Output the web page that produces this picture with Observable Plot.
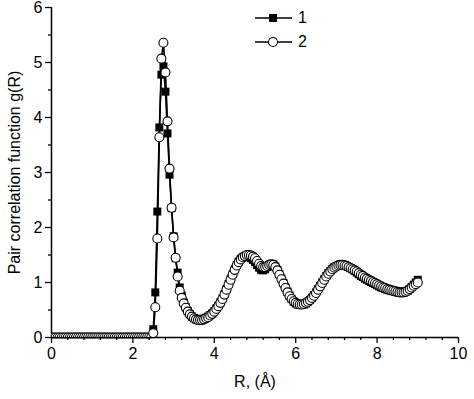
<!DOCTYPE html>
<html><head><meta charset="utf-8">
<script src="https://cdn.jsdelivr.net/npm/d3@7"></script>
<script src="https://cdn.jsdelivr.net/npm/@observablehq/plot@0.6"></script>
<style>
body{margin:0;background:#fff;}
#wrap{position:relative;width:474px;height:399px;font-family:"Liberation Sans",Arial,sans-serif;}
#legend{position:absolute;left:254px;top:6px;font-size:16px;color:#000;}
.row{display:flex;align-items:center;height:24px;}
.row span{margin-left:5px;}
</style></head><body>
<div id="wrap"><div id="chart"></div><div id="legend"></div></div>
<script>
// R grid (Å)
const R = [
0,0.05,0.1,0.15,0.2,0.25,0.3,0.35,0.4,0.45,
0.5,0.55,0.6,0.65,0.7,0.75,0.8,0.85,0.9,0.95,
1,1.05,1.1,1.15,1.2,1.25,1.3,1.35,1.4,1.45,
1.5,1.55,1.6,1.65,1.7,1.75,1.8,1.85,1.9,1.95,
2,2.05,2.1,2.15,2.2,2.25,2.3,2.35,2.4,2.45,
2.5,2.55,2.6,2.65,2.7,2.75,2.8,2.85,2.9,2.95,
3,3.05,3.1,3.15,3.2,3.25,3.3,3.35,3.4,3.45,
3.5,3.55,3.6,3.65,3.7,3.75,3.8,3.85,3.9,3.95,
4,4.05,4.1,4.15,4.2,4.25,4.3,4.35,4.4,4.45,
4.5,4.55,4.6,4.65,4.7,4.75,4.8,4.85,4.9,4.95,
5,5.05,5.1,5.15,5.2,5.25,5.3,5.35,5.4,5.45,
5.5,5.55,5.6,5.65,5.7,5.75,5.8,5.85,5.9,5.95,
6,6.05,6.1,6.15,6.2,6.25,6.3,6.35,6.4,6.45,
6.5,6.55,6.6,6.65,6.7,6.75,6.8,6.85,6.9,6.95,
7,7.05,7.1,7.15,7.2,7.25,7.3,7.35,7.4,7.45,
7.5,7.55,7.6,7.65,7.7,7.75,7.8,7.85,7.9,7.95,
8,8.05,8.1,8.15,8.2,8.25,8.3,8.35,8.4,8.45,
8.5,8.55,8.6,8.65,8.7,8.75,8.8,8.85,8.9,8.95,
9];
// series 1 (filled squares)
const g1 = [
0,0,0,0,0,0,0,0,0,0,
0,0,0,0,0,0,0,0,0,0,
0,0,0,0,0,0,0,0,0,0,
0,0,0,0,0,0,0,0,0,0,
0,0,0,0,0,0,0,0,0,0,
0.15,0.82,2.29,3.82,4.78,4.93,4.47,3.71,2.96,2.35,
1.84,1.44,1.18,0.91,0.76,0.64,0.55,0.48,0.42,0.38,
0.35,0.33,0.32,0.32,0.33,0.34,0.36,0.38,0.41,0.44,
0.48,0.53,0.58,0.64,0.71,0.79,0.88,0.97,1.06,1.15,
1.24,1.32,1.38,1.43,1.46,1.47,1.47,1.46,1.44,1.41,
1.37,1.32,1.27,1.23,1.22,1.24,1.28,1.32,1.34,1.33,
1.29,1.23,1.15,1.07,0.99,0.91,0.83,0.76,0.70,0.65,
0.62,0.60,0.59,0.59,0.60,0.62,0.65,0.68,0.72,0.77,
0.82,0.88,0.94,1.00,1.06,1.12,1.17,1.21,1.25,1.28,
1.30,1.32,1.33,1.33,1.32,1.30,1.28,1.26,1.24,1.21,
1.18,1.15,1.12,1.10,1.07,1.05,1.03,1.01,0.99,0.97,
0.95,0.93,0.91,0.90,0.88,0.87,0.86,0.85,0.84,0.83,
0.82,0.81,0.81,0.82,0.83,0.85,0.88,0.92,0.96,1.00,
1.05];
// series 2 (open circles)
const g2 = [
0,0,0,0,0,0,0,0,0,0,
0,0,0,0,0,0,0,0,0,0,
0,0,0,0,0,0,0,0,0,0,
0,0,0,0,0,0,0,0,0,0,
0,0,0,0,0,0,0,0,0,0,
0.08,0.55,1.80,3.64,5.07,5.36,4.82,3.93,3.07,2.36,
1.82,1.45,1.11,0.85,0.72,0.62,0.54,0.47,0.42,0.38,
0.35,0.33,0.32,0.32,0.32,0.33,0.35,0.37,0.40,0.43,
0.47,0.52,0.57,0.63,0.70,0.78,0.87,0.96,1.05,1.14,
1.23,1.31,1.37,1.42,1.46,1.48,1.50,1.50,1.49,1.47,
1.44,1.39,1.34,1.30,1.28,1.28,1.30,1.32,1.33,1.32,
1.28,1.22,1.14,1.06,0.98,0.90,0.82,0.75,0.70,0.66,
0.63,0.61,0.60,0.60,0.61,0.63,0.65,0.68,0.72,0.76,
0.81,0.87,0.93,0.99,1.05,1.11,1.16,1.20,1.24,1.27,
1.29,1.31,1.32,1.32,1.31,1.30,1.28,1.26,1.24,1.22,
1.20,1.17,1.14,1.12,1.09,1.07,1.05,1.03,1.01,0.99,
0.97,0.95,0.93,0.91,0.90,0.88,0.87,0.86,0.85,0.84,
0.83,0.82,0.82,0.82,0.83,0.85,0.88,0.91,0.94,0.97,
1.00];
const seriesNames = ["1", "2"];
const xTicks = [0, 2, 4, 6, 8, 10];
const xMinorTicks = [0.4,0.8,1.2,1.6,2.4,2.8,3.2,3.6,4.4,4.8,5.2,5.6,6.4,6.8,7.2,7.6,8.4,8.8,9.2,9.6];
const yTicks = [0, 1, 2, 3, 4, 5, 6];
const yMinorTicks = [0.5, 1.5, 2.5, 3.5, 4.5, 5.5];
const xTitle = "R, (Å)";
const yTitle = "Pair correlation function g(R)";

const s1 = R.map((r, i) => ({R: r, g: g1[i]}));
const s2 = R.map((r, i) => ({R: r, g: g2[i]}));

const chart = Plot.plot({
  width: 474, height: 399,
  marginLeft: 51, marginRight: 16, marginTop: 7, marginBottom: 62,
  style: {fontFamily: "Liberation Sans, Arial, sans-serif", fontSize: "16px", color: "#000", background: "#fff"},
  x: {domain: [0, 10]},
  y: {domain: [0, 6]},
  marks: [
    Plot.axisX({ticks: xMinorTicks, tickSize: 3, text: null, strokeWidth: 1.3, label: null}),
    Plot.axisX({ticks: xTicks, tickSize: 6, tickPadding: 4, strokeWidth: 1.3, label: null, tickFormat: d => String(d)}),
    Plot.axisY({ticks: yMinorTicks, tickSize: 3, text: null, strokeWidth: 1.3, label: null}),
    Plot.axisY({ticks: yTicks, tickSize: 6, tickPadding: 3, strokeWidth: 1.3, label: null, tickFormat: d => String(d)}),
    Plot.ruleX([0], {stroke: "#000", strokeWidth: 1.5}),
    Plot.ruleY([0], {stroke: "#000", strokeWidth: 1.5}),
    Plot.text([xTitle], {frameAnchor: "bottom", dy: 44, fontSize: 16, textAnchor: "middle", lineAnchor: "middle", fill: "#000"}),
    Plot.text([yTitle], {frameAnchor: "left", dx: -37, rotate: -90, fontSize: 16, textAnchor: "middle", lineAnchor: "middle", fill: "#000"}),
    Plot.line(s1, {x: "R", y: "g", stroke: "#000", strokeWidth: 1.6}),
    Plot.dot(s1.filter(d => d.g === 0), {x: "R", y: "g", symbol: "square", r: 4.5, fill: "#000", clip: true}),
    Plot.dot(s1.filter(d => d.g > 0), {x: "R", y: "g", symbol: "square", r: 4.5, fill: "#000"}),
    Plot.line(s2, {x: "R", y: "g", stroke: "#000", strokeWidth: 1.6}),
    Plot.dot(s2.filter(d => d.g === 0), {x: "R", y: "g", symbol: "circle", r: 4.5, fill: "#fff", stroke: "#000", strokeWidth: 1.1, clip: true}),
    Plot.dot(s2.filter(d => d.g > 0), {x: "R", y: "g", symbol: "circle", r: 4.5, fill: "#fff", stroke: "#000", strokeWidth: 1.1})
  ]
});
document.getElementById("chart").appendChild(chart);

// legend
const legend = document.getElementById("legend");
const symbols = [
  '<rect x="15" y="6" width="8" height="8" fill="#000"/>',
  '<circle cx="19" cy="10" r="4.5" fill="#fff" stroke="#000" stroke-width="1.1"/>'
];
seriesNames.forEach((name, i) => {
  const row = document.createElement("div");
  row.className = "row";
  row.innerHTML = '<svg width="39" height="20"><line x1="1" x2="38" y1="10" y2="10" stroke="#000" stroke-width="1.5"/>' + symbols[i] + '</svg><span>' + name + '</span>';
  legend.appendChild(row);
});
</script>
</body></html>
